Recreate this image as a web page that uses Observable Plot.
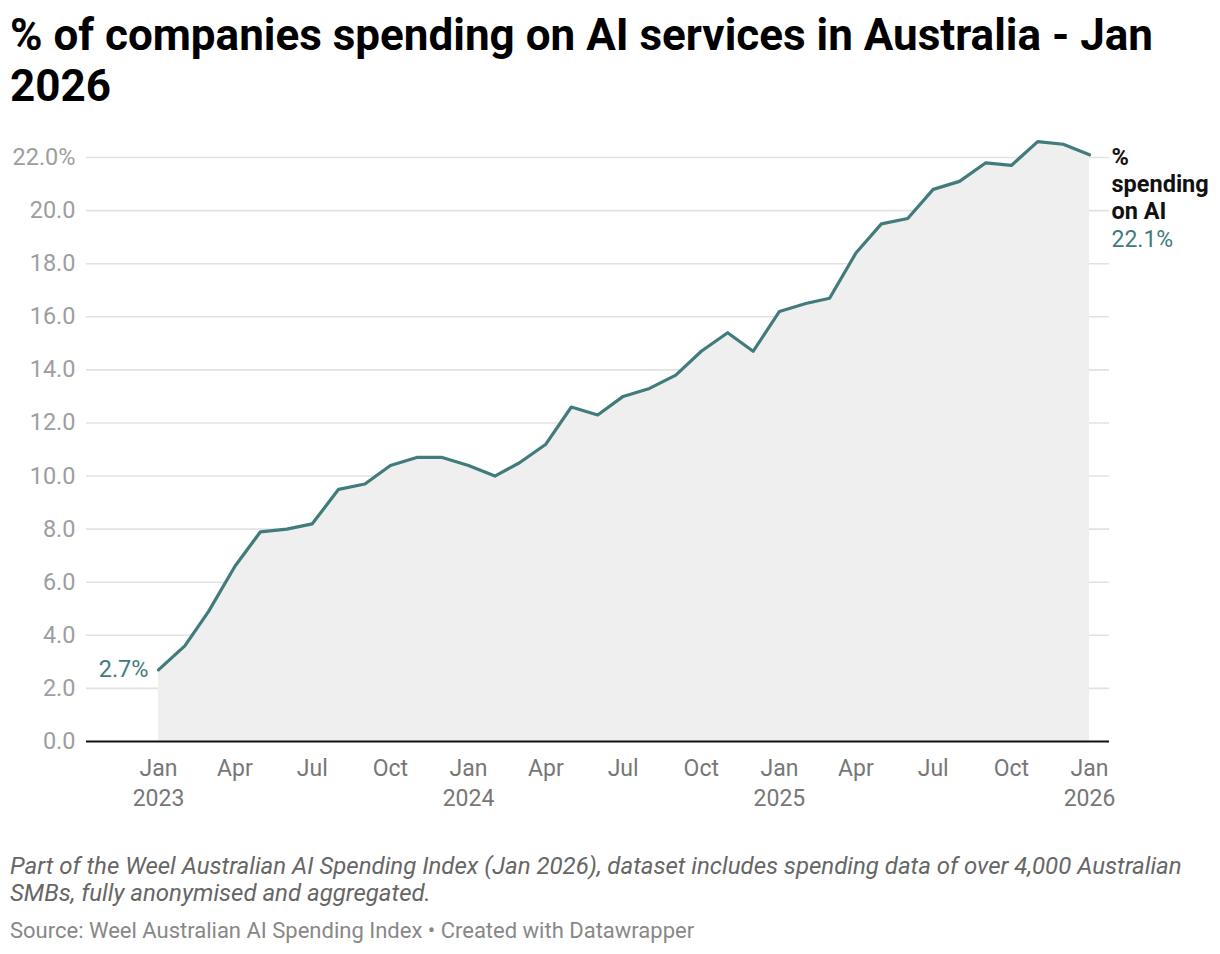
<!DOCTYPE html>
<html>
<head>
<meta charset="utf-8">
<script src="https://cdn.jsdelivr.net/npm/d3@7"></script>
<script src="https://cdn.jsdelivr.net/npm/@observablehq/plot@0.6"></script>
<style>
  html, body { margin: 0; padding: 0; background: #fff; }
  body { width: 1220px; height: 954px; position: relative; font-family: Roboto, "Noto Sans", sans-serif; overflow: hidden; }
  #title { position: absolute; left: 10px; top: 10px; width: 1175px; font-size: 44px; font-weight: 700; line-height: 51px; color: #000; }
  #chart { position: absolute; left: 0; top: 120px; }
  #caption { position: absolute; left: 10px; top: 853px; width: 1200px; font-size: 24px; font-style: italic; line-height: 27px; color: #666; }
  #source { position: absolute; left: 10px; top: 918px; font-size: 22px; color: #888; }
</style>
</head>
<body>
<div id="title">% of companies spending on AI services in Australia - Jan 2026</div>
<div id="chart"></div>
<div id="caption">Part of the Weel Australian AI Spending Index (Jan 2026), dataset includes spending data of over 4,000 Australian SMBs, fully anonymised and aggregated.</div>
<div id="source">Source: Weel Australian AI Spending Index • Created with Datawrapper</div>
<script>
const months = [
  "2023-01","2023-02","2023-03","2023-04","2023-05","2023-06","2023-07","2023-08","2023-09","2023-10","2023-11","2023-12",
  "2024-01","2024-02","2024-03","2024-04","2024-05","2024-06","2024-07","2024-08","2024-09","2024-10","2024-11","2024-12",
  "2025-01","2025-02","2025-03","2025-04","2025-05","2025-06","2025-07","2025-08","2025-09","2025-10","2025-11","2025-12",
  "2026-01"
];
const spending = [
  2.7, 3.6, 4.9, 6.6, 7.9, 8.0, 8.2, 9.5, 9.7, 10.4, 10.7, 10.7,
  10.4, 10.0, 10.5, 11.2, 12.6, 12.3, 13.0, 13.3, 13.8, 14.7, 15.4, 14.7,
  16.2, 16.5, 16.7, 18.4, 19.5, 19.7, 20.8, 21.1, 21.8, 21.7, 22.6, 22.5,
  22.1
];
const xTickMonths = ["2023-01","2023-04","2023-07","2023-10","2024-01","2024-04","2024-07","2024-10","2025-01","2025-04","2025-07","2025-10","2026-01"];
const yTicks = [0, 2, 4, 6, 8, 10, 12, 14, 16, 18, 20, 22];
const seriesLabel = ["%", "spending", "on AI"];

const parse = d3.utcParse("%Y-%m");
const data = months.map((m, i) => ({date: parse(m), value: spending[i]}));
const xTicks = xTickMonths.map(parse);
const first = data[0], last = data[data.length - 1];
const teal = "#417b7c";
const monthName = d3.utcFormat("%b");

const fmtX = d => d.getUTCMonth() === 0 ? `${monthName(d)}\n${d.getUTCFullYear()}` : monthName(d);
const fmtY = d => d === 22 ? "22.0%" : d.toFixed(1);

const chart = Plot.plot({
  width: 1220,
  height: 700,
  marginLeft: 86,
  marginRight: 111,
  marginTop: 0,
  marginBottom: 79,
  style: {fontFamily: "Roboto, sans-serif", background: "transparent"},
  x: {type: "utc", domain: [first.date, last.date], range: [158, 1089]},
  y: {domain: [0, 22], range: [621, 37]},
  marks: [
    Plot.ruleY(yTicks.filter(d => d !== 0), {stroke: "#e2e2e2", strokeWidth: 1.6}),
    Plot.areaY(data, {x: "date", y: "value", fill: "#efefef"}),
    Plot.ruleY([0], {stroke: "#111", strokeWidth: 2.2}),
    Plot.axisY(yTicks, {anchor: "left", tickSize: 0, tickPadding: 11, tickFormat: fmtY, fontSize: 23.5, fill: "#9e9e9e", label: null}),
    Plot.axisX(xTicks, {anchor: "bottom", tickSize: 0, tickPadding: 13, tickFormat: fmtX, fontSize: 23, lineHeight: 1.3, fill: "#777", label: null}),
    Plot.lineY(data, {x: "date", y: "value", stroke: teal, strokeWidth: 3.2, strokeLinejoin: "round", strokeLinecap: "round"}),
    Plot.text([first], {x: "date", y: "value", text: d => `${d.value}%`, textAnchor: "end", dx: -10, fontSize: 23.5, fill: teal}),
    Plot.text([last], {x: "date", y: "value", text: () => seriesLabel[0], textAnchor: "start", dx: 22, dy: 3, fontSize: 23.5, fontWeight: 700, fill: "#111"}),
    Plot.text([last], {x: "date", y: "value", text: () => seriesLabel[1], textAnchor: "start", dx: 22, dy: 30, fontSize: 23.5, fontWeight: 700, fill: "#111"}),
    Plot.text([last], {x: "date", y: "value", text: () => seriesLabel[2], textAnchor: "start", dx: 22, dy: 57, fontSize: 23.5, fontWeight: 700, fill: "#111"}),
    Plot.text([last], {x: "date", y: "value", text: d => `${d.value}%`, textAnchor: "start", dx: 22, dy: 85, fontSize: 23, fill: teal})
  ]
});
document.getElementById("chart").appendChild(chart);
</script>
</body>
</html>
